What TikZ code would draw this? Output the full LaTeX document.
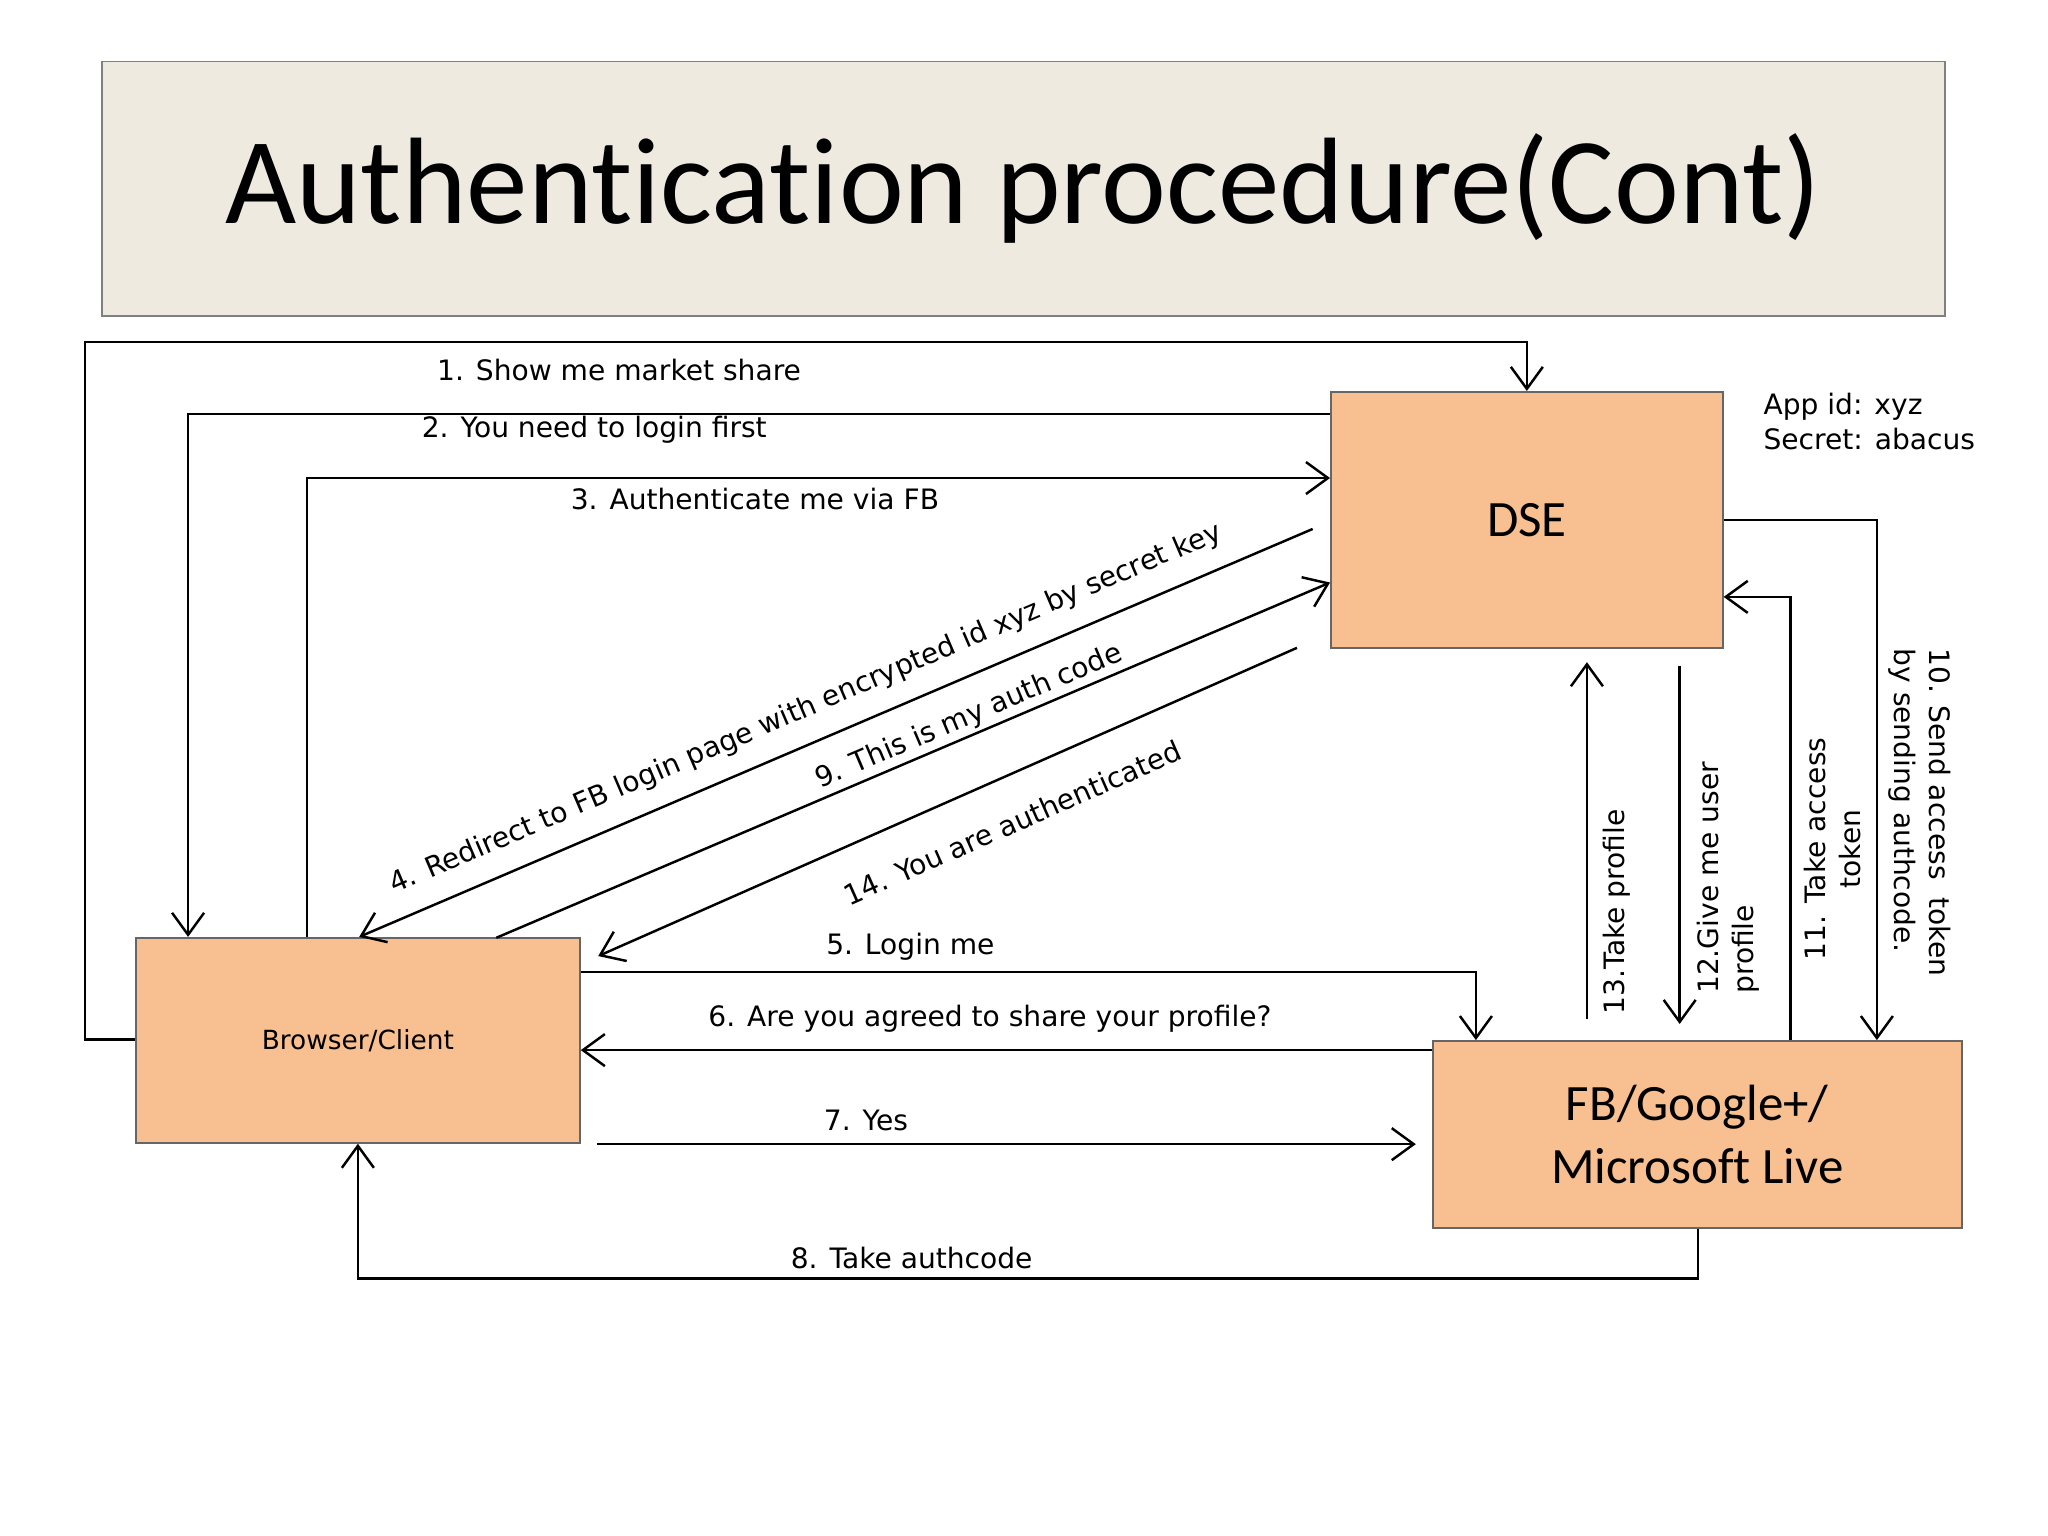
\documentclass[tikz,border=0pt]{standalone}
\usepackage{fontspec}
\setmainfont{DejaVu Sans}
\newfontfamily\calfont{Carlito}[Ligatures={NoCommon}]
\usetikzlibrary{arrows.meta}
\definecolor{boxfill}{RGB}{248,192,144}
\definecolor{titlefill}{RGB}{238,234,224}
\begin{document}
\begin{tikzpicture}[x=0.01306cm,y=-0.01306cm,
  box/.style={draw=gray!80!black,fill=boxfill,line width=0.5pt,inner sep=0pt},
  conn/.style={draw=black,line width=0.7pt,-{Straight Barb[length=2.2mm,width=3.2mm]}},
  lbl/.style={font=\fontsize{8}{10}\selectfont,inner sep=1pt}]
\useasboundingbox (0,0) rectangle (1568,1176);
\fill[white] (0,0) rectangle (1568,1176);
\node[draw=gray,fill=titlefill,minimum width=1411*0.01306cm,minimum height=195*0.01306cm,font=\calfont\fontsize{35}{40}\selectfont] (title) at (783.5,144.5) {Authentication procedure(Cont)};
\node[box,minimum width=300*0.01306cm,minimum height=196*0.01306cm,font=\calfont\fontsize{14.5}{17}\selectfont] (dse) at (1169,398) {DSE};
\node[box,minimum width=340*0.01306cm,minimum height=157*0.01306cm,font=\fontsize{7.5}{9}\selectfont] (br) at (274,796.5) {Browser/Client};
\node[box,minimum width=405*0.01306cm,minimum height=143*0.01306cm,font=\calfont\fontsize{14.5}{18}\selectfont,align=center] (fb) at (1299.5,868.5) {FB/Google+/\\Microsoft Live};
\node[lbl,anchor=north west,align=left] (app) at (1347,298) {App id: xyz\\Secret: abacus};
% 1
\draw[conn] (br.west|-0,796) -- (65,796) -- (65,262) -- (1169,262) -- (dse.north);
\node[lbl] (l1) at (474,283) {1. Show me market share};
% 2
\draw[conn] (dse.west|-0,317) -- (144,317) -- (br.north-|144,0);
\node[lbl] (l2) at (455,329) {2. You need to login first};
% 3
\draw[conn] (br.north-|235,0) -- (235,366) -- (dse.west|-0,366);
\node[lbl] (l3) at (578,382) {3. Authenticate me via FB};
% 4
\coordinate (s4) at (1005,405);
\draw[conn] (s4) -- (br.north-|275,0);
\node[lbl,rotate=23.2] (l4) at (617,543) {4. Redirect to FB login page with encrypted id xyz by secret key};
% 9
\coordinate (s9) at (380,718);
\draw[conn] (s9) -- (dse.west|-0,446);
\node[lbl,rotate=23.0] (l9) at (742,549) {9. This is my auth code};
% 14
\coordinate (s14) at (993,496);
\coordinate (e14) at (458,732);
\draw[conn] (s14) -- (e14);
\node[lbl,rotate=23.8] (l14) at (775,630) {14. You are authenticated};
% 5
\draw[conn] (br.east|-0,744) -- (1130,744) -- (fb.north-|1130,0);
\node[lbl] (l5) at (697,725) {5. Login me};
% 6
\draw[conn] (fb.west|-0,804) -- (br.east|-0,804);
\node[lbl] (l6) at (758,780) {6. Are you agreed to share your profile?};
% 7
\coordinate (s7) at (457,876);
\coordinate (e7) at (1084,876);
\draw[conn] (s7) -- (e7);
\node[lbl] (l7) at (663,858) {7. Yes};
% 8
\draw[conn] (fb.south-|1300,0) -- (1300,979) -- (274,979) -- (br.south);
\node[lbl] (l8) at (698,963) {8. Take authcode};
% 10
\draw[conn] (dse.east|-0,398) -- (1437,398) -- (fb.north-|1437,0);
\node[lbl,rotate=-90,align=left] (l10) at (1470,622) {10. Send access\ \ token\\by sending authcode.};
% 11
\draw[conn] (fb.north-|1371,0) -- (1371,457) -- (dse.east|-0,457);
\node[lbl,rotate=90,align=center] (l11) at (1403,650) {11. Take access\\token};
% 12
\coordinate (s12) at (1286,510);
\coordinate (e12) at (1286,784);
\draw[conn] (s12) -- (e12);
\node[lbl,rotate=90,align=left] (l12) at (1323,672) {12.Give me user\\profile};
% 13
\coordinate (s13) at (1215,780);
\coordinate (e13) at (1215,507);
\draw[conn] (s13) -- (e13);
\node[lbl,rotate=90] (l13) at (1238,698) {13.Take profile};
\end{tikzpicture}
\end{document}
